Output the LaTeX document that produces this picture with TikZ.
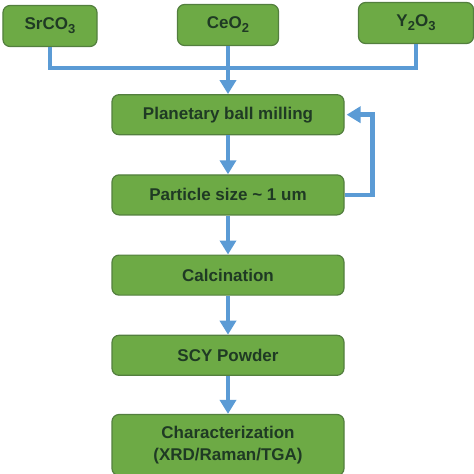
\documentclass[tikz,border=0pt]{standalone}
\usepackage{fontspec}
\setmainfont{Liberation Sans}
\usetikzlibrary{positioning, arrows.meta}
\definecolor{boxfill}{HTML}{6DAA45}
\definecolor{boxline}{HTML}{537F3E}
\definecolor{boxtext}{HTML}{1F3A24}
\definecolor{flow}{HTML}{5B9BD5}
\tikzset{
  base/.style={draw=boxline, fill=boxfill, rounded corners=7bp, align=center,
               line width=1.2bp, text=boxtext, inner sep=2bp,
               font=\fontsize{17bp}{22bp}\selectfont\bfseries},
  src/.style={base, minimum height=41bp},
  stepbox/.style={base, minimum width=232bp, minimum height=40bp},
  link/.style={draw=flow, line width=4.5bp},
  arrow/.style={link, -{Triangle[length=14bp, width=16bp]}},
}
\newcommand{\lowsub}[1]{\raisebox{-4bp}{\fontsize{13bp}{13bp}\selectfont #1}}
\begin{document}
\begin{tikzpicture}[x=1bp, y=1bp, node distance=39bp]
\useasboundingbox (0,0) rectangle (474,-474);

%% ====================  ROW 1: RAW MATERIALS  ====================

\node[src, minimum width=94bp]  (sr) at (50,-26)  {SrCO\lowsub{3}};
\node[src, minimum width=101bp] (ce) at (228,-25) {CeO\lowsub{2}};
\node[src, minimum width=115bp] (yo) at (416,-23) {Y\lowsub{2}O\lowsub{3}};

%% ====================  PROCESS CHAIN  ====================

\node[stepbox, below=48bp of ce]  (mill) {Planetary ball milling};
\node[stepbox, below=of mill]     (size) {Particle size \textasciitilde{} 1 um};
\node[stepbox, below=of size]     (calc) {Calcination};
\node[stepbox, below=of calc]     (powder) {SCY Powder};
\node[stepbox, below=38bp of powder, minimum height=61bp] (char)
  {Characterization\\(XRD/Raman/TGA)};

%% ====================  ARROWS  ====================

\coordinate (bus) at (228,-68);
\draw[link]  (sr.south) |- (bus) -| (yo.south);
\draw[arrow] (ce.south) -- (mill.north);

\draw[arrow] (mill)   -- (size);
\draw[arrow] (size)   -- (calc);
\draw[arrow] (calc)   -- (powder);
\draw[arrow] (powder) -- (char);

%% Repeat milling loop
\draw[arrow] (size.east) -- ++(28,0) |- ([xshift=2bp]mill.east);

\end{tikzpicture}
\end{document}
